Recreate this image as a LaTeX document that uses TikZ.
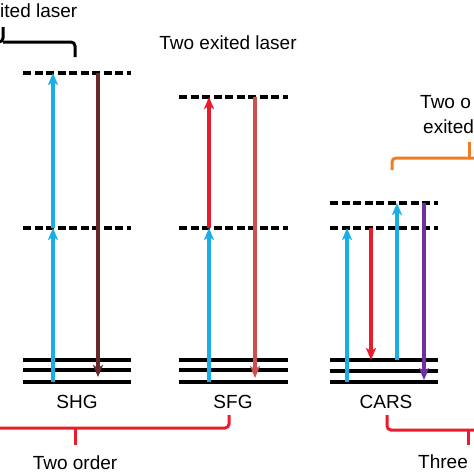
\documentclass[tikz,border=0pt]{standalone}
\usepackage{fontspec}
\setmainfont{Liberation Sans}
\usetikzlibrary{arrows.meta}
\definecolor{cblue}{RGB}{25,175,230}
\definecolor{cbrown}{RGB}{105,40,40}
\definecolor{cred}{RGB}{232,28,45}
\definecolor{clred}{RGB}{205,80,80}
\definecolor{cpurple}{RGB}{112,48,160}
\definecolor{corange}{RGB}{240,125,35}
\tikzset{
  virt/.style={line width=3.6pt, dash pattern=on 8pt off 3.5pt},
  real/.style={line width=3.6pt},
  beam/.style={line width=3.2pt, -{Stealth[length=12pt,width=10pt,inset=3pt]}},
  brace/.style={line width=3pt, rounded corners=4pt},
  lbl/.style={inner sep=0pt, font=\fontsize{19}{22}\selectfont}
}
\begin{document}
\begin{tikzpicture}[x=1pt,y=-1pt]
\useasboundingbox (0,0) rectangle (474,474);
\clip (0,0) rectangle (474,474);
\fill[white] (0,0) rectangle (474,474);
% ---------- SHG ----------
\draw[virt] (23,73) -- (131,73);
\draw[virt] (23,228) -- (131,228);
\draw[real] (23,360) -- (131,360);
\draw[real] (23,370) -- (131,370);
\draw[real] (23,382) -- (131,382);
\coordinate (s0) at (53,382);
\coordinate (s1) at (53,228);
\coordinate (s2) at (53,73);
\coordinate (sb0) at (98,73);
\coordinate (sb1) at (98,377);
\draw[beam, cblue] (s0) -- (s1);
\draw[beam, cblue] (s1) -- (s2);
\draw[beam, cbrown] (sb0) -- (sb1);
\node[lbl] (shg) at (77,402) {SHG};
% ---------- SFG ----------
\draw[virt] (179,97) -- (288,97);
\draw[virt] (179,228) -- (288,228);
\draw[real] (179,360) -- (288,360);
\draw[real] (179,370) -- (288,370);
\draw[real] (179,382) -- (288,382);
\coordinate (f0) at (209,382);
\coordinate (f1) at (209,228);
\coordinate (f2) at (209,97);
\coordinate (fb0) at (255,97);
\coordinate (fb1) at (255,378);
\draw[beam, cblue] (f0) -- (f1);
\draw[beam, cred] (f1) -- (f2);
\draw[beam, clred] (fb0) -- (fb1);
\node[lbl] (sfg) at (233,402) {SFG};
% ---------- CARS ----------
\draw[virt] (330,203) -- (438,203);
\draw[virt] (330,228) -- (438,228);
\draw[real] (330,360) -- (438,360);
\draw[real] (330,371) -- (438,371);
\draw[real] (330,382) -- (438,382);
\coordinate (c0) at (347,382);
\coordinate (c1) at (347,228);
\coordinate (cr0) at (371,228);
\coordinate (cr1) at (371,360);
\coordinate (cb0) at (397,360);
\coordinate (cb1) at (397,203);
\coordinate (cp0) at (424,203);
\coordinate (cp1) at (424,380);
\draw[beam, cblue] (c0) -- (c1);
\draw[beam, cred] (cr0) -- (cr1);
\draw[beam, cblue] (cb0) -- (cb1);
\draw[beam, cpurple] (cp0) -- (cp1);
\node[lbl] (cars) at (386,402) {CARS};
% ---------- top texts and braces ----------
\node[lbl, anchor=west] (t1) at (0,11) {ited laser};
\draw[brace] (3,27) -- (3,42) -- (-20,42);
\draw[brace] (3,42) -- (75,42) -- (75,57);
\node[lbl] (t2) at (228,43) {Two exited laser};
\node[lbl, anchor=west] (t3a) at (420,102) {Two o};
\node[lbl, anchor=west] (t3b) at (423,127) {exited};
\draw[brace, corange] (392,170) -- (392,158) -- (500,158);
\draw[brace, corange] (469,158) -- (469,142);
% ---------- bottom braces ----------
\draw[brace, cred] (-20,428) -- (229,428) -- (229,415);
\draw[brace, cred] (75,428) -- (75,445);
\node[lbl] (b1) at (75,463) {Two order};
\draw[brace, cred] (387,415) -- (387,430) -- (500,430);
\draw[brace, cred] (468,430) -- (468,445);
\node[lbl, anchor=west] (b2) at (418,462) {Three};
\end{tikzpicture}
\end{document}
